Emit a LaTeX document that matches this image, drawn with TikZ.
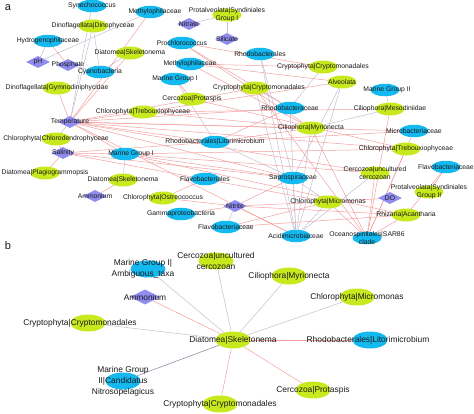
\documentclass[tikz,border=0pt]{standalone}
\usepackage{fontspec}
\setmainfont{Liberation Sans}
\usetikzlibrary{shapes.geometric,backgrounds}
\definecolor{cyN}{RGB}{20,185,240}
\definecolor{grN}{RGB}{200,233,30}
\definecolor{diN}{RGB}{145,140,240}
\definecolor{negE}{RGB}{242,160,160}
\definecolor{posE}{RGB}{196,190,210}
\definecolor{posD}{RGB}{150,140,168}
\definecolor{txt}{RGB}{25,25,25}
\begin{document}
\begin{tikzpicture}[x=1pt,y=-1pt,
 cy/.style={ellipse,fill=cyN,inner sep=0,minimum width=29pt,minimum height=12.5pt},
 gr/.style={ellipse,fill=grN,inner sep=0,minimum width=29pt,minimum height=13pt},
 di/.style={diamond,fill=diN,inner sep=0,minimum width=24pt,minimum height=12pt},
 big/.style={minimum width=35pt,minimum height=17pt},
 bigd/.style={minimum width=30pt,minimum height=15pt},
 lab/.style={text=txt,font=\fontsize{6.8}{7.8}\selectfont,align=center,inner sep=0},
 blab/.style={text=txt,font=\fontsize{8.4}{11}\selectfont,align=center,inner sep=0},
 tag/.style={text=txt,font=\fontsize{11}{12}\selectfont,inner sep=0},
 negedge/.style={draw=negE,line width=0.5pt},
 posedge/.style={draw=posE,line width=0.5pt},
 posdark/.style={draw=posD,line width=0.6pt}]
\useasboundingbox (0,0) rectangle (474,413);
\node[tag] (ta) at (8,8) {a};
\node[tag] (tb) at (8,246) {b};
% ---------- panel a shapes ----------
\node[cy] (syn) at (92,6) {};
\node[gr] (dino) at (93,26) {};
\node[cy] (meth1) at (150,12) {};
\node[gr] (prot1) at (227,15) {};
\node[di] (nitrate) at (189,24) {};
\node[di] (silicate) at (227,39) {};
\node[cy] (hydro) at (48,41) {};
\node[cy] (prochl) at (182,43) {};
\node[gr] (diat1) at (130,53) {};
\node[cy] (rhodob) at (260,54) {};
\node[di] (ph) at (38,62) {};
\node[di] (phos) at (68,65) {};
\node[cy] (meth2) at (190,64) {};
\node[gr] (crypt1) at (323,67) {};
\node[cy] (cyano) at (100,72) {};
\node[cy] (mg1a) at (175,79) {};
\node[gr] (alveo) at (342,82) {};
\node[gr] (crypt2) at (255,88) {};
\node[gr] (gymno) at (57,88) {};
\node[cy] (mg2) at (385,90) {};
\node[gr] (cerc1) at (192,99) {};
\node[cy] (rhodoc) at (290,108) {};
\node[gr] (meso) at (390,109) {};
\node[gr] (treb1) at (143,112) {};
\node[di] (temp) at (70,122) {};
\node[gr] (myrio) at (311,128) {};
\node[cy] (microb) at (414,131) {};
\node[gr] (chlorod) at (56,139) {};
\node[cy] (litor) at (215,142) {};
\node[gr] (treb2) at (406,149) {};
\node[di] (sal) at (63,153) {};
\node[cy] (mg1b) at (125,154) {};
\node[cy] (flavr) at (446,167) {};
\node[gr] (cerunc) at (375,173) {};
\node[gr] (plagio) at (45,173) {};
\node[cy] (flavs) at (205,179) {};
\node[cy] (sapro) at (293,178) {};
\node[gr] (diat2) at (123,180) {};
\node[gr] (prot2) at (429,192) {};
\node[di] (amm1) at (95,196) {};
\node[gr] (ostreo) at (163,198) {};
\node[di] (do) at (390,198) {};
\node[gr] (micro1) at (328,202) {};
\node[di] (nitrite) at (235,206) {};
\node[cy] (gamma) at (181,214) {};
\node[gr] (rhiz) at (406,215) {};
\node[cy] (flav2) at (226,227) {};
\node[cy] (acid) at (296,236) {};
\node[cy] (sar86) at (367,238) {};
% ---------- panel b shapes ----------
\node[gr,big] (bcerc) at (216,261) {};
\node[cy,big] (bmg1) at (148,269) {};
\node[gr,big] (bmyrio) at (289,276) {};
\node[di,bigd] (bamm) at (145,297) {};
\node[gr,big] (bmicro) at (357,297) {};
\node[gr,big] (bcrypt1) at (88,323) {};
\node[gr,big] (bdiat) at (233,340) {};
\node[cy,big] (blitor) at (370,340) {};
\node[cy,big] (bmg2) at (123,381) {};
\node[gr,big] (bprot) at (313,390) {};
\node[gr,big] (bcrypt2) at (220,404) {};
% ---------- edges ----------
\begin{scope}[on background layer]
\foreach \a/\b in {temp/syn,temp/dino,hydro/ph,ph/meth1,dino/cyano,phos/cyano,
  nitrate/prot1,silicate/prot1,rhodob/acid,crypt2/rhodoc,alveo/sapro,mg2/meso,
  diat2/mg1b,sapro/acid,micro1/acid,rhodoc/acid,myrio/acid,nitrite/flav2,
  cerunc/acid,crypt1/rhodoc,alveo/acid,temp/chlorod,litor/sapro,meso/myrio,
  rhodob/sapro,crypt2/acid,sapro/micro1,diat1/cyano,mg1a/litor}
  \draw[posedge] (\a) -- (\b);
\foreach \a/\b in {hydro/phos,meth1/temp,diat1/temp,prochl/crypt1,prochl/rhodoc,
  meth2/crypt1,meth2/alveo,meth2/myrio,mg1a/cerc1,temp/treb1,temp/crypt2,
  temp/rhodoc,temp/myrio,temp/litor,temp/treb2,temp/cerunc,temp/sapro,temp/mg1b,
  sal/plagio,sal/mg1b,sal/sapro,sal/micro1,sal/litor,mg1b/treb2,mg1b/cerunc,
  litor/myrio,litor/rhodoc,litor/microb,treb1/meso,treb1/myrio,meso/sar86,
  treb2/sar86,cerunc/sar86,microb/sar86,myrio/sar86,flavr/prot2,flavr/rhiz,
  do/micro1,nitrite/ostreo,nitrite/gamma,nitrite/micro1,nitrite/rhiz,
  nitrite/acid,nitrite/sapro,flav2/rhiz,flav2/micro1,ostreo/flavs,diat2/amm1,
  micro1/sar86,rhiz/sar86,mg1b/sapro,treb1/alveo,prochl/myrio,mg1b/rhiz,
  temp/acid,temp/microb,gymno/temp,chlorod/sal,cerc1/treb2,crypt2/sar86}
  \draw[negedge] (\a) -- (\b);
\foreach \b in {bcerc,bmg1,bmyrio,bmicro,bcrypt1}
  \draw[posedge] (bdiat) -- (\b);
\draw[posdark] (bdiat) -- (bmg2);
\foreach \b in {bamm,blitor,bprot,bcrypt2}
  \draw[negedge] (bdiat) -- (\b);
\end{scope}
% ---------- panel a labels ----------
\node[lab] (syn-t) at (syn) {Synechococcus};
\node[lab] (dino-t) at (dino) {Dinoflagellata|Dinophyceae};
\node[lab] (meth1-t) at (155,12) {Methylophilaceae};
\node[lab] (prot1-t) at (prot1) {Protalveolata|Syndiniales\\Group I};
\node[lab] (nitrate-t) at (nitrate) {Nitrate};
\node[lab] (silicate-t) at (silicate) {Silicate};
\node[lab] (hydro-t) at (hydro) {Hydrogenophilaceae};
\node[lab] (prochl-t) at (prochl) {Prochlorococcus};
\node[lab] (diat1-t) at (diat1) {Diatomea|Skeletonema};
\node[lab] (rhodob-t) at (rhodob) {Rhodobacterales};
\node[lab] (ph-t) at (ph) {pH};
\node[lab] (phos-t) at (phos) {Phosphate};
\node[lab] (meth2-t) at (meth2) {Methylophilaceae};
\node[lab] (crypt1-t) at (crypt1) {Cryptophyta|Cryptomonadales};
\node[lab] (cyano-t) at (cyano) {Cyanobacteria};
\node[lab] (mg1a-t) at (mg1a) {Marine Group I};
\node[lab] (alveo-t) at (alveo) {Alveolata};
\node[lab] (crypt2-t) at (259,88) {Cryptophyta|Cryptomonadales};
\node[lab] (gymno-t) at (gymno) {Dinoflagellata|Gymnodiniphycidae};
\node[lab] (mg2-t) at (387,90) {Marine Group II};
\node[lab] (cerc1-t) at (cerc1) {Cercozoa|Protaspis};
\node[lab] (rhodoc-t) at (rhodoc) {Rhodobacteraceae};
\node[lab] (meso-t) at (meso) {Ciliophora|Mesodiniidae};
\node[lab] (treb1-t) at (treb1) {Chlorophyta|Trebouxiophyceae};
\node[lab] (temp-t) at (temp) {Temperature};
\node[lab] (myrio-t) at (myrio) {Ciliophora|Myrionecta};
\node[lab] (microb-t) at (microb) {Microbacteriaceae};
\node[lab] (chlorod-t) at (chlorod) {Chlorophyta|Chlorodendrophyceae};
\node[lab] (litor-t) at (litor) {Rhodobacterales|Litorimicrobium};
\node[lab] (treb2-t) at (treb2) {Chlorophyta|Trebouxiophyceae};
\node[lab] (sal-t) at (sal) {Salinity};
\node[lab] (mg1b-t) at (131,154) {Marine Group I};
\node[lab] (flavr-t) at (flavr) {Flavobacteriaceae};
\node[lab] (cerunc-t) at (cerunc) {Cercozoa|uncultured\\cercozoan};
\node[lab] (plagio-t) at (plagio) {Diatomea|Plagiogrammopsis};
\node[lab] (flavs-t) at (flavs) {Flavobacteriales};
\node[lab] (sapro-t) at (sapro) {Saprospiraceae};
\node[lab] (diat2-t) at (diat2) {Diatomea|Skeletonema};
\node[lab] (prot2-t) at (prot2) {Protalveolata|Syndiniales\\Group II};
\node[lab] (amm1-t) at (amm1) {Ammonium};
\node[lab] (ostreo-t) at (ostreo) {Chlorophyta|Ostreococcus};
\node[lab] (do-t) at (do) {DO};
\node[lab] (micro1-t) at (micro1) {Chlorophyta|Micromonas};
\node[lab] (nitrite-t) at (nitrite) {Nitrite};
\node[lab] (gamma-t) at (gamma) {Gammaproteobacteria};
\node[lab] (rhiz-t) at (rhiz) {Rhizaria|Acantharia};
\node[lab] (flav2-t) at (flav2) {Flavobacteriaceae};
\node[lab] (acid-t) at (acid) {Acidimicrobiaceae};
\node[lab] (sar86-t) at (sar86) {Oceanospirillales|SAR86\\clade};
% ---------- panel b labels ----------
\node[blab] (bcerc-t) at (bcerc) {Cercozoa|uncultured\\cercozoan};
\node[blab] (bmg1-t) at (143,269) {Marine Group I|\\Ambiguous\_taxa};
\node[blab] (bmyrio-t) at (bmyrio) {Ciliophora|Myrionecta};
\node[blab] (bamm-t) at (bamm) {Ammonium};
\node[blab] (bmicro-t) at (bmicro) {Chlorophyta|Micromonas};
\node[blab] (bcrypt1-t) at (80,323) {Cryptophyta|Cryptomonadales};
\node[blab] (bdiat-t) at (bdiat) {Diatomea|Skeletonema};
\node[blab] (blitor-t) at (368,340) {Rhodobacterales|Litorimicrobium};
\node[blab] (bmg2-t) at (bmg2) {Marine Group\\II|Candidatus\\Nitrosopelagicus};
\node[blab] (bprot-t) at (bprot) {Cercozoa|Protaspis};
\node[blab] (bcrypt2-t) at (bcrypt2) {Cryptophyta|Cryptomonadales};
\end{tikzpicture}
\end{document}
